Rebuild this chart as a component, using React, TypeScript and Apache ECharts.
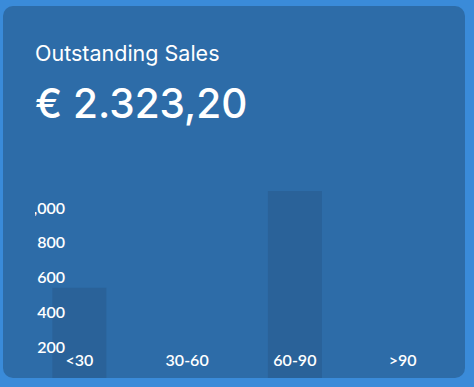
import React, { useEffect, useRef } from "react";
import * as echarts from "echarts";

const categories = ["<30", "30-60", "60-90", ">90"];
const values = [535, 0, 1092, 0];
const titleText = "Outstanding Sales";
const amountText = "€ 2.323,20";

const OUTER = "#3a8bd9";
const CARD = "#2d6ca8";
const BAR = "#2a6299";

export default function App() {
  const ref = useRef<HTMLDivElement>(null);
  useEffect(() => {
    document.body.style.margin = "0";
    const chart = echarts.init(ref.current!, undefined, { renderer: "svg" });
    chart.setOption({
      animation: false,
      backgroundColor: OUTER,
      grid: { left: 25.5, right: 17.5, top: 172.25, bottom: 6.25 },
      xAxis: {
        type: "category",
        data: categories,
        axisLine: { show: false },
        axisTick: { show: false },
        axisLabel: {
          inside: true,
          margin: 13,
          color: "#ffffff",
          fontFamily: "Lato",
          fontWeight: 600,
          fontSize: 16,
        },
        z: 10,
      },
      yAxis: {
        type: "value",
        min: 0,
        max: 1200,
        interval: 200,
        axisLine: { show: false },
        axisTick: { show: false },
        splitLine: { show: false },
        axisLabel: {
          showMinLabel: false,
          showMaxLabel: false,
          margin: -39.5,
          color: "#ffffff",
          fontFamily: "Lato",
          fontWeight: 600,
          fontSize: 16,
          formatter: (v: number) => v.toLocaleString("en-US"),
        },
        z: 10,
      },
      graphic: [
        {
          type: "rect",
          z: -10,
          silent: true,
          shape: { x: 3, y: 6, width: 462, height: 372, r: 10 },
          style: { fill: CARD },
        },
        {
          type: "text",
          z: 100,
          x: 35,
          y: 53,
          style: {
            text: titleText,
            fill: "#ffffff",
            font: "400 21.5px Inter",
            verticalAlign: "middle",
          },
        },
        {
          type: "text",
          z: 100,
          x: 35,
          y: 103,
          style: {
            text: amountText,
            fill: "#ffffff",
            font: "500 40.5px Inter",
            verticalAlign: "middle",
          },
        },
        {
          type: "rect",
          z: 100,
          silent: true,
          shape: { x: 4, y: 196, width: 31, height: 22 },
          style: { fill: CARD },
        },
        {
          type: "rect",
          z: 100,
          silent: true,
          shape: { x: 20, y: 378, width: 420, height: 9 },
          style: { fill: OUTER },
        },
      ],
      series: [
        {
          type: "bar",
          data: values,
          barWidth: 54,
          itemStyle: { color: BAR },
          z: 1,
        },
      ],
    });
    return () => chart.dispose();
  }, []);
  return <div ref={ref} style={{ width: 474, height: 387 }} />;
}
